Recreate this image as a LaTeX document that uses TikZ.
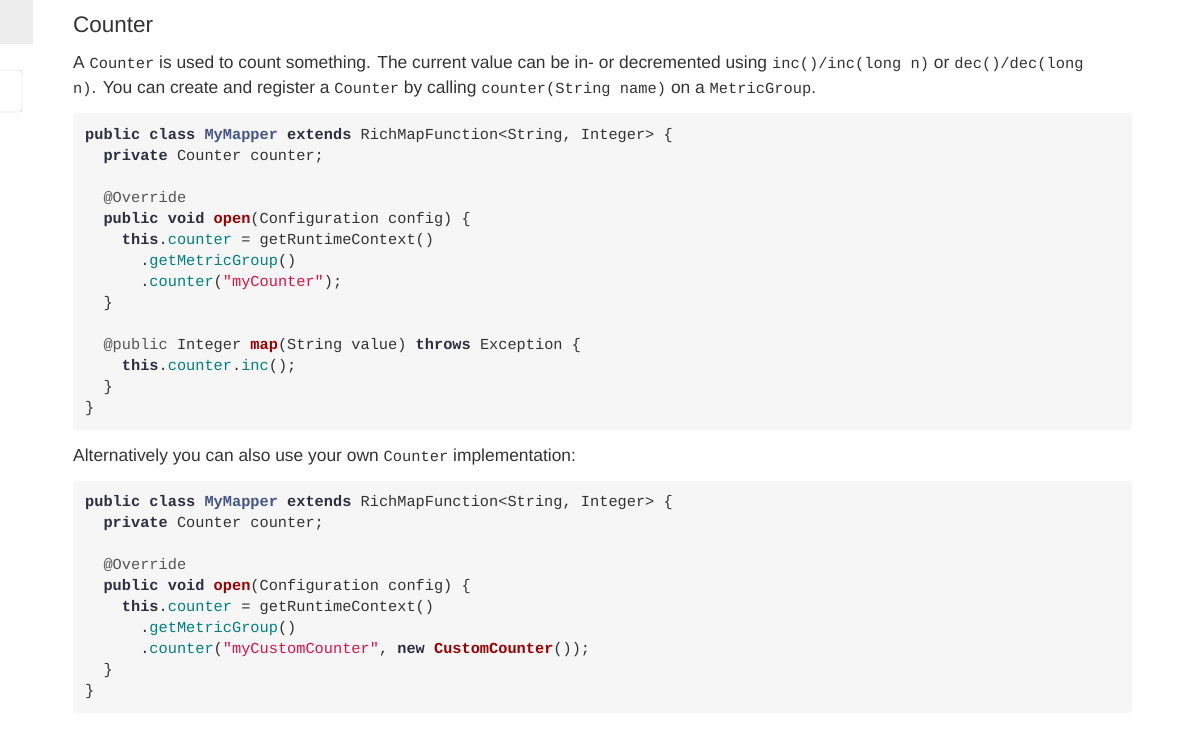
\documentclass[tikz,border=0pt]{standalone}
\usepackage{fontspec}
\setmainfont{Liberation Sans}
\newfontfamily\mono{Liberation Mono}
\definecolor{txt}{HTML}{333333}
\definecolor{kwc}{HTML}{2E2E40}
\definecolor{tyc}{HTML}{445588}
\definecolor{fnc}{HTML}{990000}
\definecolor{fldc}{HTML}{008080}
\definecolor{strc}{HTML}{DD1144}
\definecolor{annc}{HTML}{555555}
\definecolor{codebg}{HTML}{F6F6F6}
\newcommand\kw[1]{{\bfseries\color{kwc}#1}}
\newcommand\ty[1]{{\bfseries\color{tyc}#1}}
\newcommand\fn[1]{{\bfseries\color{fnc}#1}}
\newcommand\fld[1]{{\color{fldc}#1}}
\newcommand\strg[1]{{\color{strc}#1}}
\newcommand\ann[1]{{\color{annc}#1}}
\newcommand\cd[1]{{\mono\fontsize{15.4}{17}\selectfont #1}}
\begin{document}
\begin{tikzpicture}[x=1pt,y=-1pt,
  cl/.style={anchor=base west,inner sep=0pt,text=txt,font=\mono\fontsize{15.3}{18}\selectfont},
  para/.style={anchor=base west,inner sep=0pt,text=txt,font=\fontsize{17.4}{20}\selectfont},
  blk/.style={fill=codebg,draw=none,rounded corners=3pt}]
\useasboundingbox (0,0) rectangle (1194,748);
\fill[white] (0,0) rectangle (1194,748);
\fill[black!7] (0,0) rectangle (33,44);
\draw[black!22,rounded corners=3pt] (-5,70) rectangle (22,112);
\node[para,font=\fontsize{22.5}{26}\selectfont] (h) at (73,32) {Counter};
\node[para] (p1) at (73,68) {A \cd{Counter} is used to count something. The current value can be in- or decremented using \cd{inc()/inc(long n)} or \cd{dec()/dec(long}};
\node[para] (p2) at (73,93) {\cd{n)}. You can create and register a \cd{Counter} by calling \cd{counter(String name)} on a \cd{MetricGroup}.};
\fill[blk] (73,113) rectangle (1132,430);
\foreach \y/\t in {
 139/{\kw{public class} \ty{MyMapper} \kw{extends} RichMapFunction<String, Integer> \{},
 160/{\ \ \kw{private} Counter counter;},
 202/{\ \ \ann{@Override}},
 223/{\ \ \kw{public void} \fn{open}(Configuration config) \{},
 244/{\ \ \ \ \kw{this}.\fld{counter} = getRuntimeContext()},
 265/{\ \ \ \ \ \ .\fld{getMetricGroup}()},
 286/{\ \ \ \ \ \ .\fld{counter}(\strg{"myCounter"});},
 307/{\ \ \}},
 349/{\ \ \ann{@public} Integer \fn{map}(String value) \kw{throws} Exception \{},
 370/{\ \ \ \ \kw{this}.\fld{counter}.\fld{inc}();},
 391/{\ \ \}},
 412/{\}}}
 \node[cl] at (85,\y) {\t};
\node[para] (p3) at (73,461) {Alternatively you can also use your own \cd{Counter} implementation:};
\fill[blk] (73,481) rectangle (1132,713);
\foreach \y/\t in {
 506/{\kw{public class} \ty{MyMapper} \kw{extends} RichMapFunction<String, Integer> \{},
 527/{\ \ \kw{private} Counter counter;},
 569/{\ \ \ann{@Override}},
 590/{\ \ \kw{public void} \fn{open}(Configuration config) \{},
 611/{\ \ \ \ \kw{this}.\fld{counter} = getRuntimeContext()},
 632/{\ \ \ \ \ \ .\fld{getMetricGroup}()},
 653/{\ \ \ \ \ \ .\fld{counter}(\strg{"myCustomCounter"}, \kw{new} \fn{CustomCounter}());},
 674/{\ \ \}},
 695/{\}}}
 \node[cl] at (85,\y) {\t};
\end{tikzpicture}
\end{document}
